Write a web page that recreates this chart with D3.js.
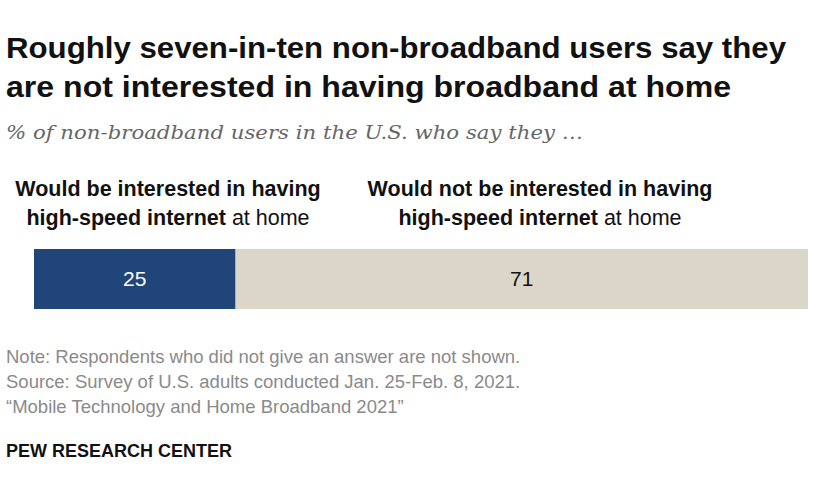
<!DOCTYPE html>
<html><head><meta charset="utf-8">
<script src="https://cdn.jsdelivr.net/npm/d3@7"></script>
<style>body{margin:0;background:#fff}</style></head>
<body><svg id="c" width="840" height="498"></svg>
<script>
const categories = ["Would be interested", "Would not be interested"];
const values = [25, 71];
const colors = ["#1f4579", "#dcd6c8"];
const labelLines = [
  [[["Would be interested in having", true]], [["high-speed internet", true], [" at home", false]]],
  [[["Would not be interested in having", true]], [["high-speed internet", true], [" at home", false]]]
];
const svg = d3.select("#c");
const sans = "'Liberation Sans', Arial, sans-serif";
const title = ["Roughly seven-in-ten non-broadband users say they", "are not interested in having broadband at home"];
const titleW = [780, 725];
title.forEach((t,i)=>svg.append("text").attr("x",6).attr("y",58+i*39).attr("font-family",sans)
  .attr("font-weight","bold").attr("font-size",30).attr("fill","#111")
  .attr("textLength",titleW[i]).attr("lengthAdjust","spacingAndGlyphs").text(t));
svg.append("text").attr("x",6).attr("y",139).attr("font-family","Georgia,'DejaVu Serif',serif")
  .attr("font-style","italic").attr("font-size",19).attr("fill","#666")
  .attr("textLength",577).attr("lengthAdjust","spacingAndGlyphs").text("% of non-broadband users in the U.S. who say they …");
const x = d3.scaleLinear().domain([0, d3.sum(values)]).range([34, 808]);
let cum = 0;
const segs = values.map((v,i)=>{const s={v,i,x0:cum,x1:cum+v}; cum+=v; return s;});
svg.selectAll("rect.b").data(segs).enter().append("rect").attr("x",d=>x(d.x0)).attr("width",d=>x(d.x1)-x(d.x0))
  .attr("y",249).attr("height",60).attr("fill",d=>colors[d.i]);
svg.selectAll("text.v").data(segs).enter().append("text").attr("x",d=>(x(d.x0)+x(d.x1))/2).attr("y",286)
  .attr("text-anchor","middle").attr("font-family",sans).attr("font-size",21)
  .attr("fill",d=>d.i===0?"#fff":"#111").text(d=>d.v);
const labelCx = [168, 540];
labelLines.forEach((lines,i)=>lines.forEach((parts,j)=>{
  const t = svg.append("text").attr("x",labelCx[i]).attr("y",196+j*29).attr("text-anchor","middle")
    .attr("font-family",sans).attr("font-size",21.5).attr("fill","#111");
  parts.forEach(p=>t.append("tspan").attr("font-weight",p[1]?"bold":"normal").text(p[0]));
}));
const notes = ["Note: Respondents who did not give an answer are not shown.",
  "Source: Survey of U.S. adults conducted Jan. 25-Feb. 8, 2021.",
  "“Mobile Technology and Home Broadband 2021”"];
notes.forEach((n,i)=>svg.append("text").attr("x",6).attr("y",363+i*25).attr("font-family",sans)
  .attr("font-size",18.5).attr("fill","#8a8a8a").text(n));
svg.append("text").attr("x",6).attr("y",457).attr("font-family",sans).attr("font-weight","bold")
  .attr("font-size",18).attr("fill","#111").text("PEW RESEARCH CENTER");
</script></body></html>
